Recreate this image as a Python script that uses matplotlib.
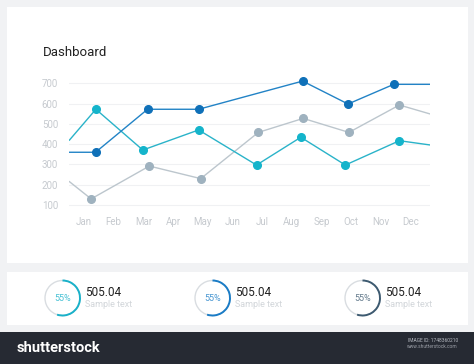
import numpy as np
import matplotlib
matplotlib.use('Agg')
import matplotlib.pyplot as plt
from matplotlib.patches import Rectangle, Arc

plt.rcParams['font.family'] = ['Roboto', 'DejaVu Sans']

# --- Data ---
months = ['Jan', 'Feb', 'Mar', 'Apr', 'May', 'Jun', 'Jul', 'Aug', 'Sep', 'Oct', 'Nov', 'Dec']
y_ticks = [100, 200, 300, 400, 500, 600, 700]

blue_x = [-0.49, 0.39, 2.14, 3.86, 7.36, 8.89, 10.43, 11.65]
blue_y = [360, 360, 572, 572, 711, 598, 695, 695]

teal_x = [-0.49, 0.40, 1.98, 3.86, 5.81, 7.30, 8.80, 10.62, 11.65]
teal_y = [420, 572, 371, 470, 297, 434, 297, 417, 396]

gray_x = [-0.49, 0.24, 2.20, 3.93, 5.87, 7.38, 8.92, 10.62, 11.65]
gray_y = [215, 130, 292, 230, 458, 527, 458, 593, 549]

kpi_pct = [55, 55, 55]
kpi_value = ['505.04', '505.04', '505.04']
kpi_label = ['Sample text', 'Sample text', 'Sample text']
kpi_colors = ['#19b1c9', '#1a7cc6', '#3d5a70']

W, H = 474, 364
fig = plt.figure(figsize=(W / 100, H / 100), dpi=100, facecolor='#f1f2f4')

# --- Background layer in pixel coordinates ---
bg = fig.add_axes([0, 0, 1, 1], zorder=0)
bg.set_xlim(0, W)
bg.set_ylim(H, 0)
bg.set_axis_off()

bg.add_patch(Rectangle((7, 7), 461, 256, facecolor='white', edgecolor='none'))
bg.add_patch(Rectangle((7, 272), 461, 53, facecolor='white', edgecolor='none'))
bg.add_patch(Rectangle((0, 332), W, 32, facecolor='#262a33', edgecolor='none'))

bg.text(43, 52, 'Dashboard', fontsize=9.5, color='#222222', va='center', ha='left')

# KPI gauges
r = 17.5
for i, (p, v, lab, c) in enumerate(zip(kpi_pct, kpi_value, kpi_label, kpi_colors)):
    cx, cy = 62.5 + 150 * i, 298
    bg.add_patch(Arc((cx, cy), 2 * r, 2 * r, theta1=0, theta2=360,
                     color='#d9dde1', lw=1.0))
    bg.add_patch(Arc((cx, cy), 2 * r, 2 * r, theta1=-90, theta2=-90 + 3.6 * p,
                     color=c, lw=1.4))
    bg.text(cx, cy + 0.5, f'{p}%', fontsize=6.5, color=c, alpha=0.8,
            ha='center', va='center')
    bg.text(cx + 23, cy - 5, v, fontsize=8.5, color='#222222', ha='left', va='center')
    bg.text(cx + 23, cy + 6.5, lab, fontsize=6.5, color='#d2d6da', ha='left', va='center')

# Footer
bg.text(17, 348, 'shutterstock', fontsize=10.5, fontweight='bold', color='white',
        ha='left', va='center')
bg.text(458, 341, 'IMAGE ID: 1748360210', fontsize=3.5, color='#b8bcc4',
        ha='right', va='center')
bg.text(458, 347, 'www.shutterstock.com', fontsize=3.5, color='#9a9ea6',
        ha='right', va='center')

# --- Line chart ---
x0, x1 = 69.15, 430
y_top, y_bot = 75.2, 213.1
ax = fig.add_axes([x0 / W, 1 - y_bot / H, (x1 - x0) / W, (y_bot - y_top) / H], zorder=1)
ax.patch.set_alpha(0)
ax.set_xlim(-0.5, 11.65)
ax.set_ylim(60, 740)

for s in ax.spines.values():
    s.set_visible(False)
for t in y_ticks:
    ax.axhline(t, color='#f0f1f3', lw=0.8, zorder=0)

ax.plot(gray_x, gray_y, color='#bcc6cd', lw=1.0, marker='o', markersize=5.5,
        markerfacecolor='#9fb2bf', markeredgecolor='#9fb2bf', markevery=slice(1, -1), zorder=2)
ax.plot(teal_x, teal_y, color='#2ab3c9', lw=1.0, marker='o', markersize=5.5,
        markerfacecolor='#14b4cb', markeredgecolor='#14b4cb', markevery=slice(1, -1), zorder=3)
ax.plot(blue_x, blue_y, color='#2283c6', lw=1.0, marker='o', markersize=5.5,
        markerfacecolor='#0f70b8', markeredgecolor='#0f70b8', markevery=slice(1, -1), zorder=4)

ax.set_xticks(range(len(months)))
ax.set_xticklabels(months)
ax.set_yticks(y_ticks)
ax.tick_params(axis='both', length=0, labelsize=7, labelcolor='#c6cacf')
ax.tick_params(axis='x', pad=3)
ax.tick_params(axis='y', pad=8)

fig.savefig('out.png', dpi=100, facecolor=fig.get_facecolor())
